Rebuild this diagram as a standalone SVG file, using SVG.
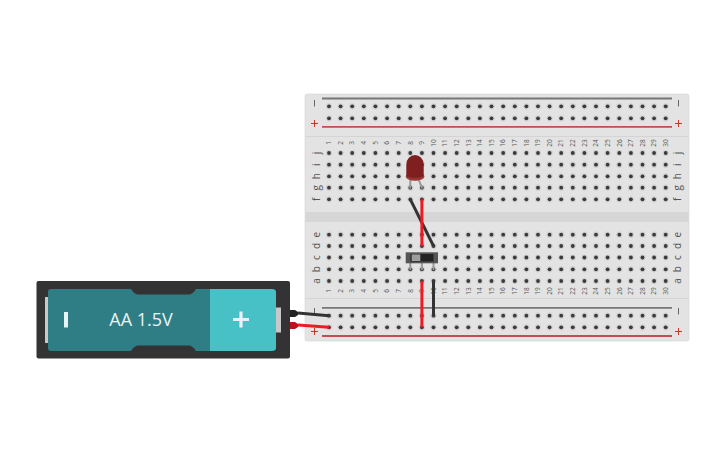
<svg xmlns="http://www.w3.org/2000/svg" xmlns:xlink="http://www.w3.org/1999/xlink" width="725" height="453" viewBox="0 0 725 453">
<style>
.n{font:6.5px "Open Sans","Liberation Sans",sans-serif;fill:#555;text-anchor:middle}
.l{font:10px "Open Sans","Liberation Sans",sans-serif;fill:#555;text-anchor:middle}
.w{fill:none;stroke-width:3;stroke-linecap:butt}
.k{stroke:#333}.r{stroke:#ed1c24}
.leg{stroke:#999;stroke-width:2;fill:none;stroke-linecap:round}
</style>
<defs>
<g id="h"><circle r="3.1" fill="#d0d0d0"/><circle r="1.9" fill="#3a3a3a"/></g>
<g id="row">
<use xlink:href="#h" x="329"/><use xlink:href="#h" x="340.6"/><use xlink:href="#h" x="352.2"/><use xlink:href="#h" x="363.8"/><use xlink:href="#h" x="375.4"/><use xlink:href="#h" x="387.1"/><use xlink:href="#h" x="398.7"/><use xlink:href="#h" x="410.3"/><use xlink:href="#h" x="421.9"/><use xlink:href="#h" x="433.5"/><use xlink:href="#h" x="445.1"/><use xlink:href="#h" x="456.7"/><use xlink:href="#h" x="468.3"/><use xlink:href="#h" x="479.9"/><use xlink:href="#h" x="491.5"/><use xlink:href="#h" x="503.2"/><use xlink:href="#h" x="514.8"/><use xlink:href="#h" x="526.4"/><use xlink:href="#h" x="538"/><use xlink:href="#h" x="549.6"/><use xlink:href="#h" x="561.2"/><use xlink:href="#h" x="572.8"/><use xlink:href="#h" x="584.4"/><use xlink:href="#h" x="596"/><use xlink:href="#h" x="607.6"/><use xlink:href="#h" x="619.3"/><use xlink:href="#h" x="630.9"/><use xlink:href="#h" x="642.5"/><use xlink:href="#h" x="654.1"/><use xlink:href="#h" x="665.7"/>
</g>
<g id="nums">
<text class="n" transform="translate(331.2,0) rotate(-90)">1</text><text class="n" transform="translate(342.8,0) rotate(-90)">2</text><text class="n" transform="translate(354.4,0) rotate(-90)">3</text><text class="n" transform="translate(366,0) rotate(-90)">4</text><text class="n" transform="translate(377.6,0) rotate(-90)">5</text><text class="n" transform="translate(389.3,0) rotate(-90)">6</text><text class="n" transform="translate(400.9,0) rotate(-90)">7</text><text class="n" transform="translate(412.5,0) rotate(-90)">8</text><text class="n" transform="translate(424.1,0) rotate(-90)">9</text><text class="n" transform="translate(435.7,0) rotate(-90)">10</text><text class="n" transform="translate(447.3,0) rotate(-90)">11</text><text class="n" transform="translate(458.9,0) rotate(-90)">12</text><text class="n" transform="translate(470.5,0) rotate(-90)">13</text><text class="n" transform="translate(482.1,0) rotate(-90)">14</text><text class="n" transform="translate(493.7,0) rotate(-90)">15</text><text class="n" transform="translate(505.4,0) rotate(-90)">16</text><text class="n" transform="translate(517,0) rotate(-90)">17</text><text class="n" transform="translate(528.6,0) rotate(-90)">18</text><text class="n" transform="translate(540.2,0) rotate(-90)">19</text><text class="n" transform="translate(551.8,0) rotate(-90)">20</text><text class="n" transform="translate(563.4,0) rotate(-90)">21</text><text class="n" transform="translate(575,0) rotate(-90)">22</text><text class="n" transform="translate(586.6,0) rotate(-90)">23</text><text class="n" transform="translate(598.2,0) rotate(-90)">24</text><text class="n" transform="translate(609.8,0) rotate(-90)">25</text><text class="n" transform="translate(621.5,0) rotate(-90)">26</text><text class="n" transform="translate(633.1,0) rotate(-90)">27</text><text class="n" transform="translate(644.7,0) rotate(-90)">28</text><text class="n" transform="translate(656.3,0) rotate(-90)">29</text><text class="n" transform="translate(667.9,0) rotate(-90)">30</text>
</g>
</defs>
<rect width="725" height="453" fill="#fff"/>
<g id="breadboard">
<rect x="305" y="94" width="384" height="247" rx="2" fill="#e3e3e3" stroke="#d4d4d4" stroke-width=".6"/>
<rect x="305.500" y="212" width="383" height="10" fill="#d6d6d6"/>
<path d="M305.500 136.500H688.500M305.500 298.500H688.500" stroke="#d4d4d4" stroke-width="1" fill="none"/>
<path d="M322 98.500H672M322 307.800H672" stroke="#777" stroke-width="1.800" fill="none"/>
<path d="M322 126.800H672M322 336H672" stroke="#c0504d" stroke-width="1.800" fill="none"/>
<path d="M314.500 100V106.500M678.500 100V106.500M314.500 308V314.500M678.500 308V314.500" stroke="#666" stroke-width="1" fill="none"/>
<path d="M311 123.500H318M314.500 120V127M675 123.500H682M678.500 120V127M311 331.500H318M314.500 328V335M675 331.500H682M678.500 328V335" stroke="#c0392b" stroke-width="1" fill="none"/>
<use xlink:href="#row" y="106.300"/><use xlink:href="#row" y="118.300"/>
<use xlink:href="#row" y="153"/><use xlink:href="#row" y="164.700"/><use xlink:href="#row" y="176.300"/><use xlink:href="#row" y="187.700"/><use xlink:href="#row" y="199.300"/>
<use xlink:href="#row" y="234.700"/><use xlink:href="#row" y="246"/><use xlink:href="#row" y="257.500"/><use xlink:href="#row" y="269.300"/><use xlink:href="#row" y="281"/>
<use xlink:href="#row" y="315.700"/><use xlink:href="#row" y="327.300"/>
<use xlink:href="#nums" y="143"/><use xlink:href="#nums" y="291"/>
<g>
<text class="l" transform="translate(320,153) rotate(-90)">j</text><text class="l" transform="translate(320,164.700) rotate(-90)">i</text><text class="l" transform="translate(320,176.300) rotate(-90)">h</text><text class="l" transform="translate(320,187.700) rotate(-90)">g</text><text class="l" transform="translate(320,199.300) rotate(-90)">f</text>
<text class="l" transform="translate(320,234.700) rotate(-90)">e</text><text class="l" transform="translate(320,246) rotate(-90)">d</text><text class="l" transform="translate(320,257.500) rotate(-90)">c</text><text class="l" transform="translate(320,269.300) rotate(-90)">b</text><text class="l" transform="translate(320,281) rotate(-90)">a</text>
<text class="l" transform="translate(681,153) rotate(-90)">j</text><text class="l" transform="translate(681,164.700) rotate(-90)">i</text><text class="l" transform="translate(681,176.300) rotate(-90)">h</text><text class="l" transform="translate(681,187.700) rotate(-90)">g</text><text class="l" transform="translate(681,199.300) rotate(-90)">f</text>
<text class="l" transform="translate(681,234.700) rotate(-90)">e</text><text class="l" transform="translate(681,246) rotate(-90)">d</text><text class="l" transform="translate(681,257.500) rotate(-90)">c</text><text class="l" transform="translate(681,269.300) rotate(-90)">b</text><text class="l" transform="translate(681,281) rotate(-90)">a</text>
</g>
</g>
<g id="connectors">
<path class="w k" d="M410.300 199.300L433.500 246"/>
<path class="w r" d="M421.900 199.300V246"/>
<path class="w r" d="M421.900 281V327.300"/>
<path class="w k" d="M433.500 281V315.700"/>
<path class="w k" d="M298 313L329 315.700"/>
<path class="w r" d="M298 325L329 327.300"/>
</g>
<g id="led">
<path class="leg" d="M410.300 187.700L410.300 178M421.900 187.700L418 178"/>
<ellipse cx="415" cy="176.500" rx="9.200" ry="4.300" fill="#983636"/>
<path d="M406.300 176V164.500A8.700 9.500 0 0 1 423.700 164.500V176Q415 180 406.300 176Z" fill="#7f1f1f"/>
</g>
<g id="switch">
<path class="leg" d="M410.300 262V269.300M421.900 262V269.300M433.500 262V269.300"/>
<rect x="405.700" y="252.300" width="32.300" height="11" fill="#555"/>
<rect x="410.500" y="254" width="23" height="7.500" fill="#222"/>
<rect x="411.500" y="254.500" width="9" height="6.500" fill="#777"/>
<path d="M413 254.500V261M415 254.500V261M417 254.500V261M419 254.500V261" stroke="#ccc" stroke-width=".9"/>
</g>
<g id="battery">
<rect x="36.500" y="281" width="253.500" height="77.500" rx="2" fill="#333"/>
<rect x="45" y="297" width="3.500" height="46" fill="#c8c8c8"/>
<rect x="276" y="307.500" width="5" height="25" fill="#c8c8c8"/>
<path d="M48 292Q48 289 51 289H131Q134 294 138 294.500H189Q193 294 196 289H210V351H196Q193 346 189 345.500H138Q134 346 131 351H51Q48 351 48 348Z" fill="#2f7d85"/>
<path d="M210 289H272Q276 289 276 292V348Q276 351 272 351H210Z" fill="#47c1c6"/>
<rect x="64" y="312" width="4" height="15.500" fill="#e8f3f3"/>
<path d="M233 319.500H249M241 311.500V327.500" stroke="#eef" stroke-width="3.200" fill="none"/>
<text x="141" y="326" style="font:18px 'Open Sans','Liberation Sans',sans-serif;fill:#e8f3f3;text-anchor:middle">AA 1.5V</text>
<path d="M290 310H295L298 312V315L295 317H290Z" fill="#222"/>
<path d="M290 322H295L298 324V327L295 329H290Z" fill="#b5161d"/>
</g>
</svg>
